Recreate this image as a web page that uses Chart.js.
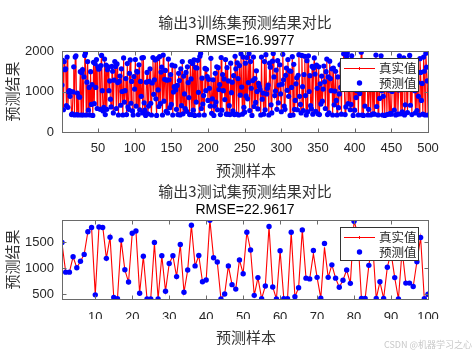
<!DOCTYPE html>
<html><head><meta charset="utf-8">
<script src="https://cdn.jsdelivr.net/npm/chart.js@4.4.0/dist/chart.umd.min.js"></script>
<style>
html,body{margin:0;padding:0;background:#fff;width:474px;height:355px;overflow:hidden;position:relative}
canvas{position:absolute;left:0}
</style></head><body>
<canvas id="c1" width="474" height="180" style="top:0px;width:474px;height:180px"></canvas>
<canvas id="c2" width="474" height="186" style="top:169px;width:474px;height:186px"></canvas>
<script>
// ---------- data ----------
const trainTrue = [
1150,1780,540,1740,1550,1560,640,1860,610,990,1010,880,1000,430,450,990,1610,420,1860,1880,
430,960,410,870,860,1500,420,1460,1540,420,1360,1900,1950,420,1230,1750,540,1100,420,1490,
680,1180,410,1720,700,1700,1100,1790,580,1610,1550,1570,560,1640,1900,1020,520,610,1800,430,
1650,560,1550,1610,1020,1260,800,620,1620,1500,470,1280,1750,1620,580,1680,1220,420,1250,1380,
660,1560,1000,410,1830,740,1020,1320,430,1700,620,560,1450,1780,710,1250,520,420,1370,1050,
1800,640,1500,1480,430,1660,550,1250,880,1830,470,1850,720,540,410,1230,1470,450,640,1250,
1560,710,420,1210,1840,930,1280,1780,820,410,1820,1040,630,1860,700,1480,1600,420,1910,760,
1300,1520,510,1280,470,1810,1290,600,1420,680,1650,420,990,1120,1630,1040,560,1150,420,1450,
1270,420,1560,650,1740,450,1380,940,580,1480,510,1610,1220,850,430,1740,1310,430,1690,540,
1780,410,1590,740,1580,1780,980,420,1870,1950,580,1330,690,900,420,1570,1020,1550,1370,780,
1300,1080,640,1830,460,820,1290,410,640,1450,740,1610,550,1590,1050,1170,430,1840,540,1420,
1020,1310,800,1790,440,1590,440,1260,650,430,1700,970,1230,520,1390,430,1880,1560,440,1710,
1320,420,1640,910,1930,1110,440,1850,610,490,1700,890,1850,820,1220,1940,530,1740,1080,400,
1270,1850,630,1320,730,1510,1000,570,1200,1130,1050,420,1850,810,960,440,1740,550,1910,940,
1080,1160,420,1700,1600,670,470,1750,1940,1360,900,1010,1530,560,1760,720,1160,1660,940,500,
1180,1920,1290,640,560,1400,1580,1030,1790,880,1510,410,1500,1100,1860,420,1670,560,780,1190,
1340,550,1400,1910,880,680,470,1890,1120,530,1420,1870,900,420,1760,500,1880,1000,1390,650,
570,1620,440,1580,1830,1430,510,1650,1080,450,1610,430,1190,690,1380,760,1060,1630,1240,580,
1490,1800,430,1360,470,1750,1320,1020,1560,420,1580,670,1010,1500,780,420,1360,600,940,1660,
1100,440,1720,1350,1930,1050,430,620,1860,1950,700,1460,1280,550,680,1880,1500,410,1160,540,
1450,850,1020,1640,420,1280,950,1580,1980,420,1130,410,1510,640,1360,1280,1690,420,560,1200,
1060,420,1690,1050,450,1650,440,1450,1900,630,1100,420,1520,830,1540,1880,1020,420,880,1600,
410,1640,1300,430,1670,1040,440,1300,460,440,1000,1290,1660,540,1580,420,1050,1610,440,1040,
1880,1220,450,1260,500,1700,1830,420,670,1430,1640,480,1240,1620,1890,660,1420,430,1520,1440,
1300,1020,470,1660,530,1220,880,420,1810,1470,780,1200,440,1850,1500,420,1940,1600,1260,420
];
const trainPred = [
1160,1770,550,1740,1540,1560,650,1850,610,990,1020,880,1000,430,450,990,1610,420,1850,1880,
430,960,420,870,860,1490,420,1460,1540,420,1360,1890,1950,420,1230,1740,540,1100,420,1490,
680,1170,410,1720,700,1690,1100,1790,580,1610,1550,1570,560,1640,1890,1020,520,610,1800,430,
1650,560,1540,1610,1020,1260,810,620,1620,1500,470,1280,1740,1620,580,1680,1220,420,1250,1380,
660,1560,1000,420,1830,740,1020,1320,430,1690,620,560,1450,1780,710,1250,520,420,1370,1060,
1790,640,1500,1480,430,1660,550,1250,880,1830,470,1840,720,540,410,1230,1470,450,640,1250,
1560,710,420,1210,1840,930,1290,1780,820,410,1810,1040,630,1860,700,1480,1600,420,1900,760,
1300,1520,510,1280,470,1800,1290,600,1420,680,1650,420,990,1120,1630,1040,560,1150,430,1450,
1270,420,1560,650,1740,450,1380,940,580,1470,510,1610,1220,850,430,1740,1310,430,1690,540,
1780,410,1590,740,1580,1770,980,420,1870,1940,580,1330,690,900,420,1570,1020,1550,1370,780,
1300,1080,640,1820,460,820,1290,410,640,1450,740,1610,550,1590,1050,1170,430,1840,540,1420,
1020,1310,800,1790,440,1590,440,1260,650,430,1700,970,1230,520,1390,430,1870,1560,440,1710,
1320,420,1640,910,1930,1110,440,1850,610,490,1700,890,1840,820,1220,1940,530,1740,1080,410,
1270,1850,630,1320,730,1510,1000,570,1200,1130,1050,420,1850,810,960,440,1740,550,1910,940,
1080,1160,420,1700,1600,670,470,1750,1940,1360,900,1010,1530,560,1760,720,1160,1660,940,500,
1180,1920,1290,640,560,1400,1580,1030,1790,880,1510,410,1500,1100,1860,420,1670,560,780,1190,
1340,550,1400,1910,880,680,470,1890,1120,530,1420,1870,900,420,1760,500,1880,1000,1390,650,
570,1620,440,1580,1830,1430,510,1650,1080,450,1610,430,1190,690,1380,760,1060,1630,1240,580,
1490,1800,430,1360,470,1750,1320,1020,1560,420,1580,670,1010,1500,780,420,1360,600,940,1660,
1100,440,1720,1350,1930,1050,430,620,1860,1950,700,1460,1280,550,680,1880,1500,410,1160,540,
1450,850,1020,1640,420,1280,950,1580,1970,420,1130,410,1510,640,1360,1280,1690,420,560,1200,
1060,420,1690,1050,450,1650,440,1450,1900,630,1100,420,1520,830,1540,1880,1020,420,880,1600,
410,1640,1300,430,1670,1040,440,1300,460,440,1000,1290,1660,540,1580,420,1050,1610,440,1040,
1880,1220,450,1260,500,1700,1830,420,670,1430,1640,480,1240,1620,1890,660,1420,430,1520,1440,
1300,1020,470,1660,530,1220,880,420,1810,1470,780,1200,440,1850,1500,420,1940,1600,1260,420
];
const testTrue = [
1480,925,925,1220,1010,1135,1265,1700,1780,490,
1790,1810,1190,1595,440,415,1540,970,735,1670,
1715,520,1230,410,410,1480,410,1240,560,1090,
1240,840,1455,540,965,1825,1045,1245,740,775,
1925,1200,1120,410,505,1045,685,600,1160,895,
1690,1350,480,820,415,660,1800,640,410,1335,
415,415,1690,455,625,1735,810,795,1280,825,
425,1400,825,1065,810,635,770,965,710,1915,
1650,420,420,1055,1500,420,740,420,1020,1300,
820,410,1350,715,715,650,1125,1590,415,500
];
const testPred = [
1495,925,925,1220,1010,1135,1265,1700,1780,490,
1790,1780,1190,1595,440,415,1540,970,735,1670,
1715,520,1230,410,410,1495,410,1240,560,1090,
1240,840,1455,540,965,1825,1045,1245,740,775,
1920,1200,1120,412,505,1045,685,600,1160,895,
1690,1350,480,820,415,660,1800,640,410,1335,
415,415,1690,455,625,1735,810,795,1340,825,
425,1475,825,1065,810,635,770,965,710,1900,
1640,420,420,1055,1490,420,740,420,1020,1290,
820,410,1340,715,715,650,1125,1590,415,500
];
const trainXTicks = [50,100,150,200,250,300,350,400,450,500];
const trainYTicks = [0,1000,2000];
const testXTicks = [10,20,30,40,50,60,70,80,90,100];
const testYTicks = [500,1000,1500];
const legendLabels = ['真实值','预测值'];
const trainTitle = ['输出3训练集预测结果对比','RMSE=16.9977'];
const testTitle = ['输出3测试集预测结果对比','RMSE=22.9617'];
const xLabel = '预测样本';
const yLabel = '预测结果';
const watermark = 'CSDN @机器学习之心';

// ---------- drawing ----------
const CJK = '"Noto Sans CJK SC", sans-serif';
const LAT = '"Liberation Sans", Arial, sans-serif';

const deco = {
  id: 'deco',
  afterDraw(chart, args, o) {
    const ctx = chart.ctx, a = chart.chartArea;
    const xs = chart.scales.x, ys = chart.scales.y;
    ctx.save();
    // box
    ctx.strokeStyle = '#6a6a6a'; ctx.lineWidth = 1;
    const L = Math.round(a.left)+0.5, R = Math.round(a.right)+0.5, T = Math.round(a.top)+0.5, B = Math.round(a.bottom)+0.5;
    ctx.strokeRect(L, T, R-L, B-T);
    // inward ticks
    ctx.beginPath();
    const tl = 4;
    o.xt.forEach(v => { const p = Math.round(xs.getPixelForValue(v))+0.5; ctx.moveTo(p,B); ctx.lineTo(p,B-tl); ctx.moveTo(p,T); ctx.lineTo(p,T+tl); });
    o.yt.forEach(v => { const p = Math.round(ys.getPixelForValue(v))+0.5; ctx.moveTo(L,p); ctx.lineTo(L+tl,p); ctx.moveTo(R,p); ctx.lineTo(R-tl,p); });
    ctx.stroke();
    // titles
    ctx.textAlign = 'center'; ctx.textBaseline = 'middle';
    ctx.fillStyle = '#333'; ctx.font = '15px ' + CJK;
    ctx.fillText(o.title[0], 245, 22);
    ctx.fillStyle = '#000'; ctx.font = '14px ' + LAT;
    ctx.fillText(o.title[1], 245, 41);
    // axis labels
    ctx.fillStyle = '#333'; ctx.font = '15px ' + CJK;
    ctx.fillText(xLabel, 246, o.xlY);
    ctx.save(); ctx.translate(12, (a.top + a.bottom)/2); ctx.rotate(-Math.PI/2);
    ctx.fillText(yLabel, 0, 0); ctx.restore();
    // legend
    const lx = 340.5, ly = 58.5, lw = 78, lh = 33;
    ctx.fillStyle = '#fff'; ctx.fillRect(lx, ly, lw, lh);
    ctx.strokeStyle = '#333'; ctx.strokeRect(lx, ly, lw, lh);
    ctx.strokeStyle = '#ff0000'; ctx.lineWidth = 1;
    ctx.beginPath(); ctx.moveTo(344, 68.5); ctx.lineTo(375, 68.5);
    ctx.moveTo(359.5, 67); ctx.lineTo(359.5, 70); ctx.stroke();
    ctx.fillStyle = '#0000ff';
    ctx.beginPath(); ctx.arc(359.5, 83, 2.7, 0, Math.PI*2); ctx.fill();
    ctx.fillStyle = '#262626'; ctx.font = '12.5px ' + CJK; ctx.textAlign = 'left';
    ctx.fillText(legendLabels[0], 379, 68);
    ctx.fillText(legendLabels[1], 379, 83);
    if (o.wm) {
      ctx.fillStyle = '#c8c8c8'; ctx.font = '9px ' + CJK; ctx.textAlign = 'left';
      ctx.fillText(watermark, 384, 176);
    }
    ctx.restore();
  }
};

function makeChart(id, tv, pv, xmin, xmax, ymin, ymax, xt, yt, padBottom, title, xlY, wm, dotR, xPad) {
  const trueData = tv.map((v, i) => ({x: i + 1, y: v}));
  const predData = pv.map((v, i) => ({x: i + 1, y: v}));
  return new Chart(document.getElementById(id), {
    type: 'scatter',
    data: { datasets: [
      { label: legendLabels[1], data: predData, showLine: false, pointRadius: dotR, pointBackgroundColor: '#0000ff', pointBorderWidth: 0, borderColor: '#0000ff', order: 0 },
      { label: legendLabels[0], data: trueData, showLine: true, borderColor: '#ff0000', borderWidth: 1.1, pointRadius: 0, order: 1 }
    ]},
    options: {
      responsive: false, animation: false, devicePixelRatio: 1,
      layout: { padding: { left: 0, right: 46, top: 51, bottom: padBottom } },
      plugins: { legend: { display: false }, tooltip: { enabled: false }, deco: { xt, yt, title, xlY, wm } },
      scales: {
        x: { type: 'linear', min: xmin, max: xmax,
             grid: { display: false, drawTicks: false }, border: { display: false },
             afterBuildTicks: s => { s.ticks = xt.map(v => ({value: v})); },
             afterFit: s => { s.height = 20; },
             ticks: { font: { family: 'Liberation Sans', size: 13 }, color: '#262626', padding: xPad, maxRotation: 0, autoSkip: false, callback: v => String(v) } },
        y: { type: 'linear', min: ymin, max: ymax,
             grid: { display: false, drawTicks: false }, border: { display: false },
             afterBuildTicks: s => { s.ticks = yt.map(v => ({value: v})); },
             afterFit: s => { s.width = 62; },
             ticks: { font: { family: 'Liberation Sans', size: 13 }, color: '#262626', padding: 8, autoSkip: false, callback: v => String(v) } }
      }
    },
    plugins: [deco]
  });
}

makeChart('c1', trainTrue, trainPred, 1, 500, 0, 2000, trainXTicks, trainYTicks, 28, trainTitle, 170, false, 2.6, 9);
makeChart('c2', testTrue, testPred, 1, 100, 410, 1925, testXTicks, testYTicks, 36, testTitle, 168, true, 2.7, 11);
</script>
</body></html>
